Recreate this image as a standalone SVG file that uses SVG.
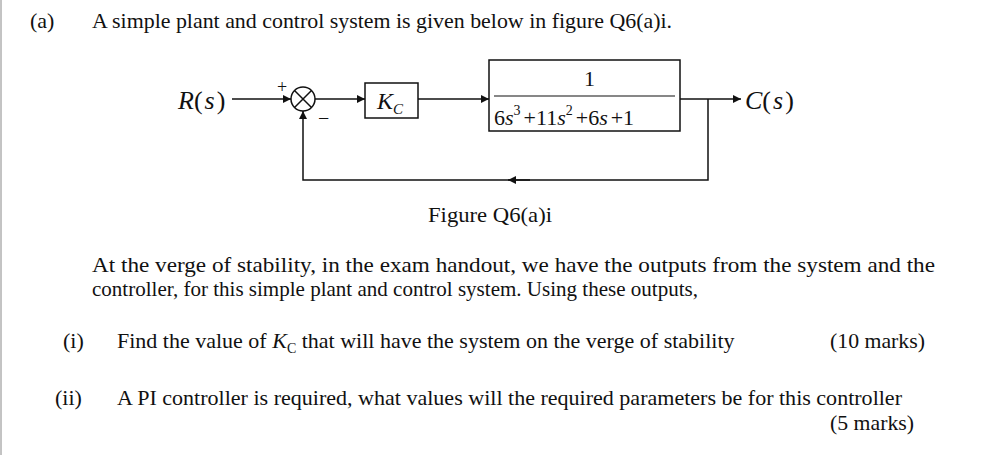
<svg xmlns="http://www.w3.org/2000/svg" width="990" height="455" viewBox="0 0 990 455">
<defs><marker id="ah" viewBox="0 0 10 10" refX="10" refY="5" markerWidth="8" markerHeight="8" markerUnits="userSpaceOnUse" orient="auto"><path d="M0,0 L10,5 L0,10 z" fill="#111"/></marker>
<style>text{font-family:"Liberation Serif",serif;fill:#111}.t{font-size:22px}.m{font-style:italic}.ln{stroke:#111;stroke-width:1.5;fill:none}</style></defs>
<rect width="990" height="455" fill="#fff"/>
<line x1="1" y1="0" x2="1" y2="455" stroke="#888" stroke-width="1"/>
<text class="t" x="30" y="28">(a)</text>
<text class="t" x="92" y="28" textLength="580" lengthAdjust="spacingAndGlyphs">A simple plant and control system is given below in figure Q6(a)i.</text>
<g id="R"><text x="178" y="109" font-size="26"><tspan class="m">R</tspan>(<tspan class="m" dx="2">s</tspan><tspan dx="2">)</tspan></text></g>
<g id="sum"><circle cx="303" cy="99" r="12" class="ln"/><path d="M294.5,90.5 L311.5,107.5 M311.5,90.5 L294.5,107.5" class="ln"/><text x="277" y="93" font-size="18">+</text><text x="318" y="125" font-size="20">−</text></g>
<g id="Kc"><rect x="365" y="83" width="53" height="35" class="ln"/><text x="377" y="109" font-size="24" class="m">K<tspan font-size="15" dy="5">C</tspan></text></g>
<g id="plant"><rect x="489" y="60" width="191" height="71" class="ln"/><text x="584" y="86" font-size="22">1</text><line x1="494" y1="96" x2="675" y2="96" stroke="#111" stroke-width="1.2"/><text x="494" y="125" font-size="22">6<tspan class="m">s</tspan><tspan font-size="14" dy="-10">3</tspan><tspan dy="10" dx="3">+11</tspan><tspan class="m">s</tspan><tspan font-size="14" dy="-10">2</tspan><tspan dy="10" dx="3">+6</tspan><tspan class="m">s</tspan><tspan dx="3">+1</tspan></text></g>
<g id="C"><text x="745" y="109" font-size="26"><tspan class="m">C</tspan>(<tspan class="m" dx="2">s</tspan><tspan dx="2">)</tspan></text></g>
<g id="connectors" class="ln">
<line x1="232" y1="99" x2="291" y2="99" marker-end="url(#ah)"/>
<line x1="315" y1="99" x2="365" y2="99" marker-end="url(#ah)"/>
<line x1="418" y1="99" x2="489" y2="99" marker-end="url(#ah)"/>
<line x1="680" y1="99" x2="741" y2="99" marker-end="url(#ah)"/>
<path d="M708,99 V180 H303 V111" marker-end="url(#ah)"/>
<line x1="530" y1="180" x2="508" y2="180" marker-end="url(#ah)"/>
</g>
<text class="t" x="428" y="222" textLength="124" lengthAdjust="spacingAndGlyphs">Figure Q6(a)i</text>
<text class="t" x="92" y="272" textLength="843" lengthAdjust="spacingAndGlyphs">At the verge of stability, in the exam handout, we have the outputs from the system and the</text>
<text class="t" x="92" y="296" textLength="606" lengthAdjust="spacingAndGlyphs">controller, for this simple plant and control system. Using these outputs,</text>
<text class="t" x="63" y="348">(i)</text>
<text class="t" x="117" y="348">Find the value of <tspan class="m">K</tspan><tspan font-size="14" dy="5">C</tspan><tspan dy="-5"> that will have the system on the verge of stability</tspan></text>
<text class="t" x="830" y="348" textLength="95" lengthAdjust="spacingAndGlyphs">(10 marks)</text>
<text class="t" x="55" y="405">(ii)</text>
<text class="t" x="117" y="405" textLength="785" lengthAdjust="spacingAndGlyphs">A PI controller is required, what values will the required parameters be for this controller</text>
<text class="t" x="830" y="430" textLength="84" lengthAdjust="spacingAndGlyphs">(5 marks)</text>
</svg>
